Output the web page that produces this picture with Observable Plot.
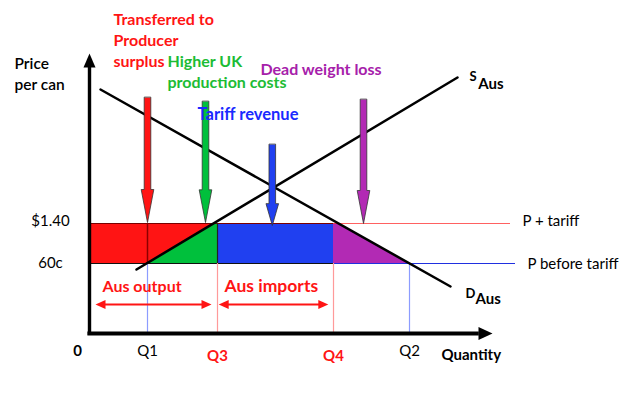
<!DOCTYPE html>
<html><head><meta charset="utf-8">
<script src="https://cdn.jsdelivr.net/npm/d3@7"></script>
<script src="https://cdn.jsdelivr.net/npm/@observablehq/plot@0.6"></script>
<style>body{margin:0;background:#fff;} svg{display:block;}</style>
</head><body><div id="chart"></div>
<script>
// ---- data (schematic units) ----
const qLabels = ["Q1", "Q3", "Q4", "Q2"];
const qValues = [14.5, 32, 61, 80];
const priceLabels = ["60c", "$1.40"];
const priceLevels = [7, 11];               // P before tariff, P + tariff
const supplyQ = [11.75, 92], supplyP = [6.4, 25.6];
const demandQ = [2.75, 90.25], demandP = [24.4, 4.7];
const arrowNames = ["Transferred to Producer surplus", "Higher UK production costs", "Tariff revenue", "Dead weight loss"];
const arrowQ = [14.5, 29, 45.7, 68.5];
const arrowTipP = [11.1, 11.1, 10.8, 11];
const arrowTopP = [23.6, 23.2, 18.9, 23.4];
const axisTop = 28, axisRight = 100.75;

// ---- layout / style ----
const W = 640, H = 394, mL = 89, mR = 151, mT = 53, mB = 61;
const yMax = 28, xMax = 100;
const pxPerP = (H - mT - mB) / yMax;
const FONT = "Lato, 'Open Sans', sans-serif";
const RED = "#ff1414", GREEN = "#00c03c", BLUE = "#2040f0", PURPLE = "#b22ab4";
const arrowColors = [RED, GREEN, BLUE, PURPLE];

const [P0, P1] = priceLevels;
const [Q1, Q3, Q4, Q2] = qValues;
const lineAt = (qs, ps, p) => qs[0] + (p - ps[0]) * (qs[1] - qs[0]) / (ps[1] - ps[0]);
const sAtP0 = lineAt(supplyQ, supplyP, P0), sAtP1 = lineAt(supplyQ, supplyP, P1);
const dAtP0 = lineAt(demandQ, demandP, P0), dAtP1 = lineAt(demandQ, demandP, P1);

const greenPoly = [{q: sAtP0, p: P0}, {q: sAtP1, p: P1}, {q: Q3, p: P1}];
const purplePoly = [{q: Q4, p: P1}, {q: dAtP1, p: P1}, {q: dAtP0, p: P0}];
const supply = supplyQ.map((q, i) => ({q, p: supplyP[i]}));
const demand = demandQ.map((q, i) => ({q, p: demandP[i]}));

function blockArrow(sh, hh, frac, hmax) {
  return {draw(ctx, l) {
    const h = Math.min(hmax, l * frac);
    ctx.moveTo(-sh, 0); ctx.lineTo(-sh, -(l - h)); ctx.lineTo(-hh, -(l - h));
    ctx.lineTo(0, -l); ctx.lineTo(hh, -(l - h)); ctx.lineTo(sh, -(l - h));
    ctx.lineTo(sh, 0); ctx.closePath();
  }};
}
const triangle = (half) => ({draw(ctx, l) {
  ctx.moveTo(-half, 0); ctx.lineTo(0, -l); ctx.lineTo(half, 0); ctx.closePath();
}});

const arrows = arrowQ.map((q, i) => ({q, tip: arrowTipP[i], top: arrowTopP[i], color: arrowColors[i], name: arrowNames[i]}));

const txt = (data, o) => Plot.text(data, {x: "x", y: "y", text: "t", lineAnchor: "middle", fontFamily: FONT, ...o});

const marks = [
  // shaded areas
  Plot.rect([{x1: 0, x2: Q3}], {x1: "x1", x2: "x2", y1: () => P0, y2: () => P1, fill: RED}),
  Plot.rect([{x1: Q3, x2: Q4}], {x1: "x1", x2: "x2", y1: () => P0, y2: () => P1, fill: BLUE}),
  Plot.areaY(greenPoly, {x: "q", y1: () => P0, y2: "p", fill: GREEN, curve: "linear"}),
  Plot.areaY(purplePoly, {x: "q", y1: () => P0, y2: "p", fill: PURPLE, curve: "linear"}),
  // price lines
  Plot.ruleY([P0], {x1: 0, x2: 106.5, stroke: "#2030e0", strokeWidth: 1.2}),
  Plot.ruleY([P0], {x1: 0, x2: Q4, stroke: "#111", strokeWidth: 1.2}),
  Plot.ruleY([P1], {x1: Q4, x2: 105.25, stroke: "#ff3a3a", strokeWidth: 1.2, strokeOpacity: 0.8}),
  Plot.ruleY([P1], {x1: 0, x2: Q4, stroke: "#7a0000", strokeWidth: 1.2}),
  // quantity guides
  Plot.ruleX([Q1, Q2], {y1: 0, y2: P0, stroke: "#8c9cff", strokeWidth: 1.2}),
  Plot.ruleX([Q3, Q4], {y1: 0, y2: P0, stroke: "#ff9a9a", strokeWidth: 1.2}),
  Plot.ruleX([Q1], {y1: P0, y2: P1, stroke: "#8b0000", strokeWidth: 1.5}),
  Plot.ruleX([Q3], {y1: P0, y2: P1, stroke: "#222", strokeWidth: 1.2}),
  // supply & demand
  Plot.line(supply, {x: "q", y: "p", stroke: "#000", strokeWidth: 2.5}),
  Plot.line(demand, {x: "q", y: "p", stroke: "#000", strokeWidth: 2.5}),
  // annotation arrows
  ...arrows.map(a => Plot.vector([a], {x: "q", y: "tip", length: (a.top - a.tip) * pxPerP, rotate: 180, anchor: "end",
    shape: blockArrow(3.3, 6.3, 0.27, 33), fill: a.color, stroke: "#333", strokeWidth: 0.8, strokeLinejoin: "miter"})),
  // axes
  Plot.ruleX([0], {y1: -0.2, y2: axisTop - 1.4, stroke: "#000", strokeWidth: 3.4}),
  Plot.ruleY([0], {x1: -0.4, x2: axisRight - 3.3, stroke: "#000", strokeWidth: 4}),
  Plot.vector([{x: 0, y: axisTop}], {x: "x", y: "y", length: 14, anchor: "end", rotate: 0, shape: triangle(6), fill: "#000", stroke: "none"}),
  Plot.vector([{x: axisRight, y: 0}], {x: "x", y: "y", length: 14, anchor: "end", rotate: 90, shape: triangle(6.5), fill: "#000", stroke: "none"}),
  // output / imports double arrows
  Plot.ruleY([2.9], {x1: 2.5, x2: 29.5, stroke: RED, strokeWidth: 2}),
  Plot.ruleY([2.9], {x1: 33.3, x2: 58.7, stroke: RED, strokeWidth: 2}),
  Plot.vector([{x: 1.5, r: -90}, {x: 30.5, r: 90}, {x: 32.3, r: -90}, {x: 59.7, r: 90}],
    {x: "x", y: () => 2.9, rotate: "r", length: 10, anchor: "end", shape: triangle(4.5), fill: RED, stroke: "none"}),
  // texts
  txt([{x: 6, y: 31.4, t: "Transferred to"}, {x: 6, y: 29.3, t: "Producer"}, {x: 6, y: 27.2, t: "surplus"}],
    {textAnchor: "start", fill: RED, fontSize: 16, fontWeight: "bold"}),
  txt([{x: 19.5, y: 27.2, t: "Higher UK"}, {x: 19.5, y: 25.1, t: "production costs"}],
    {textAnchor: "start", fill: "#1cbc34", fontSize: 16, fontWeight: "bold"}),
  txt([{x: 27, y: 21.9, t: "Tariff revenue"}], {textAnchor: "start", fill: "#1a2aff", fontSize: 16.5, fontWeight: "bold"}),
  txt([{x: 42.75, y: 26.4, t: "Dead weight loss"}], {textAnchor: "start", fill: "#a620aa", fontSize: 16, fontWeight: "bold"}),
  txt([{x: -18.75, y: 26.9, t: "Price"}, {x: -18.75, y: 24.8, t: "per can"}], {textAnchor: "start", fill: "#000", fontSize: 15.5, fontWeight: 600}),
  txt(priceLabels.map((t, i) => ({x: -9.75, y: priceLevels[i] + (i ? 0.2 : 0), t})), {textAnchor: "middle", fill: "#000", fontSize: 15}),
  txt([{x: 108.25, y: 11.2, t: "P + tariff"}, {x: 109.5, y: 6.9, t: "P before tariff"}], {textAnchor: "start", fill: "#000", fontSize: 15}),
  txt([{x: -3, y: -1.8, t: "0"}], {textAnchor: "middle", fill: "#000", fontSize: 15, fontWeight: "bold"}),
  txt(qLabels.map((t, i) => ({x: qValues[i], y: -1.8, t, red: t === "Q3" || t === "Q4"})).filter(d => !d.red),
    {textAnchor: "middle", fill: "#000", fontSize: 15}),
  txt(qLabels.map((t, i) => ({x: qValues[i], y: -2.3, t, red: t === "Q3" || t === "Q4"})).filter(d => d.red),
    {textAnchor: "middle", fill: RED, fontSize: 15, fontWeight: "bold"}),
  txt([{x: 88, y: -2.2, t: "Quantity"}], {textAnchor: "start", fill: "#000", fontSize: 15, fontWeight: "bold"}),
  txt([{x: 3.25, y: 4.7, t: "Aus output"}], {textAnchor: "start", fill: RED, fontSize: 16, fontWeight: "bold"}),
  txt([{x: 33.75, y: 4.7, t: "Aus imports"}], {textAnchor: "start", fill: RED, fontSize: 17.5, fontWeight: "bold"}),
  txt([{x: 95, y: 25.7, t: "S"}, {x: 94, y: 4.0, t: "D"}], {textAnchor: "start", fill: "#000", fontSize: 13, fontWeight: "bold"}),
  txt([{x: 97.2, y: 24.9, t: "Aus"}, {x: 96.5, y: 3.4, t: "Aus"}], {textAnchor: "start", fill: "#000", fontSize: 15, fontWeight: "bold"})
];

const chart = Plot.plot({
  width: W, height: H, marginLeft: mL, marginRight: mR, marginTop: mT, marginBottom: mB,
  x: {domain: [0, xMax], axis: null},
  y: {domain: [0, yMax], axis: null},
  style: {background: "#fff", overflow: "visible", fontFamily: FONT},
  marks
});
document.getElementById("chart").append(chart);
</script>
</body></html>
